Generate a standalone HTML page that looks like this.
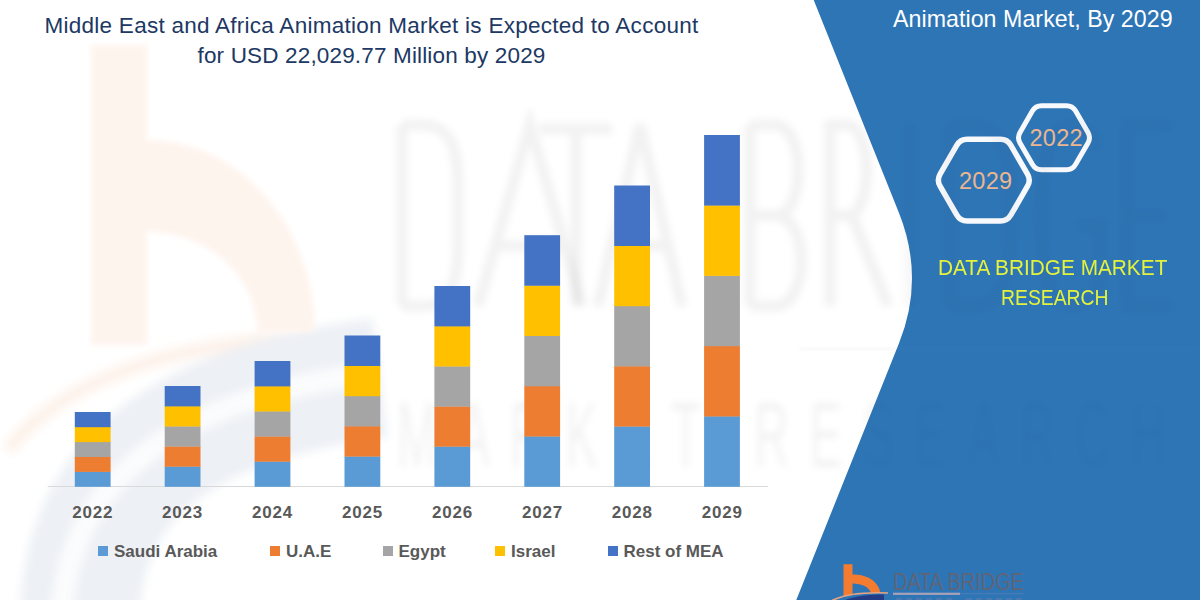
<!DOCTYPE html>
<html><head><meta charset="utf-8">
<style>
html,body{margin:0;padding:0;}
body{width:1200px;height:600px;overflow:hidden;position:relative;background:#fff;font-family:"Liberation Sans",sans-serif;}
.abs{position:absolute;white-space:nowrap;}
svg{position:absolute;left:0;top:0;}
.title{color:#203864;font-size:22.5px;line-height:30px;}
.bar{position:absolute;width:36px;}
.yr{position:absolute;top:503.3px;font-size:17px;letter-spacing:0.8px;text-indent:0.8px;font-weight:bold;color:#595959;width:90px;text-align:center;}
.lg{position:absolute;top:541.5px;font-size:17px;font-weight:bold;color:#595959;line-height:20px;}
.sq{position:absolute;top:546px;width:10px;height:10px;}
.hx{color:#ebb590;font-size:23.5px;letter-spacing:0.3px;}
.yl{color:#e4f23c;font-size:21.5px;transform-origin:0 0;}
</style></head>
<body>
<!-- watermark -->
<svg width="1200" height="600" viewBox="0 0 1200 600">
  <defs>
    <filter id="bl" x="-20%" y="-20%" width="140%" height="140%"><feGaussianBlur stdDeviation="5"/></filter>
    <filter id="bl2" x="-10%" y="-10%" width="120%" height="120%"><feGaussianBlur stdDeviation="2.5"/></filter>
    <filter id="bl3" x="-10%" y="-10%" width="120%" height="120%"><feGaussianBlur stdDeviation="3.5"/></filter>
  </defs>
  <g filter="url(#bl)">
    <path d="M 8 450 Q 90 345 330 335" fill="none" stroke="#fdf2ea" stroke-width="14"/>
    <path d="M 80 620 C 80 470 200 400 380 378" fill="none" stroke="#edf0f5" stroke-width="120"/>
    
    <path d="M 62 620 C 65 480 180 400 360 375" fill="none" stroke="#fbfcfd" stroke-width="22"/>
  </g>
  <g filter="url(#bl2)">
    <path d="M 91 45 L 147 45 L 147 140 A 168 192 0 0 1 315 332 L 257 332 A 110 100 0 0 0 147 232 L 147 345 L 91 345 Z" fill="#fef4ee"/>
  </g>
</svg>
<!-- right panel -->
<svg width="1200" height="600" viewBox="0 0 1200 600">
  <path d="M 813.7 0 L 1200 0 L 1200 600 L 796.3 600 L 899 343.25 Q 925 278.25 899 213 Z" fill="#2e75b6"/>
  <path d="M 1088.00 132.50 Q 1091.00 137.70 1088.00 142.90 L 1075.50 164.55 Q 1072.50 169.74 1066.50 169.74 L 1041.50 169.74 Q 1035.50 169.74 1032.50 164.55 L 1020.00 142.90 Q 1017.00 137.70 1020.00 132.50 L 1032.50 110.85 Q 1035.50 105.66 1041.50 105.66 L 1066.50 105.66 Q 1072.50 105.66 1075.50 110.85 Z" fill="none" stroke="#f7f9fc" stroke-width="5"/>
  <path d="M 1027.50 174.09 Q 1031.00 180.15 1027.50 186.21 L 1010.90 214.96 Q 1007.40 221.03 1000.40 221.03 L 967.20 221.03 Q 960.20 221.03 956.70 214.96 L 940.10 186.21 Q 936.60 180.15 940.10 174.09 L 956.70 145.34 Q 960.20 139.27 967.20 139.27 L 1000.40 139.27 Q 1007.40 139.27 1010.90 145.34 Z" fill="none" stroke="#f7f9fc" stroke-width="5.5"/>
  <!-- axis -->
  <line x1="48" y1="486.5" x2="768" y2="486.5" stroke="#d9d9d9" stroke-width="1.2"/>
</svg>

<!-- big watermark letters -->
<svg width="1200" height="600" viewBox="0 0 1200 600">
  <g filter="url(#bl3)" fill="none" stroke="#000" stroke-opacity="0.05" stroke-width="11">
    <path d="M 402 125 L 402 306 M 402 125 L 422 125 C 462 125 458 170.5 458 215.5 C 458 260.5 462 306 422 306 L 402 306"/>
    <path d="M 478 306 L 530 125 L 582 306 M 494 246 L 566 246"/>
    <path d="M 540 129 L 612 129 M 576 129 L 576 306"/>
    <path d="M 598 306 L 640 125 L 682 306 M 612 246 L 668 246"/>
    <path d="M 750 125 L 750 306 M 750 125 L 775 125 C 806 125 806 215.5 775 215.5 L 750 215.5 M 775 215.5 C 810 215.5 810 306 775 306 L 750 306"/>
    <path d="M 830 306 L 830 125 L 847 125 C 873 125 873 215.5 847 215.5 L 830 215.5 M 852 215.5 L 888 306"/>
    </g>
  <g filter="url(#bl3)" fill="none" stroke="#000" stroke-opacity="0.03" stroke-width="11">
    <path d="M 910 125 L 910 306"/>
    <path d="M 950 125 L 950 306 M 950 125 L 972 125 C 1012 125 1010 170.5 1010 215.5 C 1010 260.5 1012 306 972 306 L 950 306"/>
    <path d="M 1098 150 C 1092 130 1082 125 1072 125 C 1045 125 1042 170.5 1042 215.5 C 1042 260.5 1045 306 1072 306 C 1088 306 1100 296 1100 271 L 1100 225.5 L 1078 225.5"/>
    <path d="M 1172 125 L 1127 125 L 1127 306 L 1172 306 M 1127 215.5 L 1165 215.5"/>
  </g>
  <g filter="url(#bl2)">
    <line x1="395" y1="350" x2="805" y2="350" stroke="#f9d9c2" stroke-opacity="0.35" stroke-width="9" filter="url(#bl3)"/>
    <line x1="800" y1="348" x2="1200" y2="348" stroke="#7f7f7f" stroke-opacity="0.06" stroke-width="4"/>
  </g>
  <defs>
    <clipPath id="cpL"><path d="M 0 0 L 813.7 0 L 899 213 Q 925 278.25 899 343.25 L 796.3 600 L 0 600 Z"/></clipPath>
    <clipPath id="cpR"><path d="M 813.7 0 L 1200 0 L 1200 600 L 796.3 600 L 899 343.25 Q 925 278.25 899 213 Z"/></clipPath>
  </defs>
  <g clip-path="url(#cpL)"><g font-family="Liberation Sans" font-size="92" fill="#000" fill-opacity="0.05" filter="url(#bl3)">
    <text transform="translate(397 467) scale(0.52 1)" letter-spacing="40">MARKET RESEARCH</text>
  </g></g>
  <g clip-path="url(#cpR)"><g font-family="Liberation Sans" font-size="92" fill="#000" fill-opacity="0.025" filter="url(#bl3)">
    <text transform="translate(397 467) scale(0.52 1)" letter-spacing="40">MARKET RESEARCH</text>
  </g></g>
</svg>

<!-- title -->
<div class="abs title" style="left:0;top:10.7px;width:743px;text-align:center;letter-spacing:0.26px;">Middle East and Africa Animation Market is Expected to Account</div>
<div class="abs title" style="left:0;top:40.7px;width:743px;text-align:center;letter-spacing:0.16px;">for USD 22,029.77 Million by 2029</div>

<!-- bars -->
<svg width="1200" height="600" viewBox="0 0 1200 600">
  <rect x="74.8" y="471.60" width="35.8" height="15.20" fill="#5b9bd5"/>
  <rect x="74.8" y="456.70" width="35.8" height="15.20" fill="#ed7d31"/>
  <rect x="74.8" y="441.80" width="35.8" height="15.20" fill="#a5a5a5"/>
  <rect x="74.8" y="426.90" width="35.8" height="15.20" fill="#ffc000"/>
  <rect x="74.8" y="412.00" width="35.8" height="15.20" fill="#4472c4"/>
  <rect x="164.7" y="466.40" width="35.8" height="20.40" fill="#5b9bd5"/>
  <rect x="164.7" y="446.30" width="35.8" height="20.40" fill="#ed7d31"/>
  <rect x="164.7" y="426.20" width="35.8" height="20.40" fill="#a5a5a5"/>
  <rect x="164.7" y="406.10" width="35.8" height="20.40" fill="#ffc000"/>
  <rect x="164.7" y="386.00" width="35.8" height="20.40" fill="#4472c4"/>
  <rect x="254.6" y="461.40" width="35.8" height="25.40" fill="#5b9bd5"/>
  <rect x="254.6" y="436.30" width="35.8" height="25.40" fill="#ed7d31"/>
  <rect x="254.6" y="411.20" width="35.8" height="25.40" fill="#a5a5a5"/>
  <rect x="254.6" y="386.10" width="35.8" height="25.40" fill="#ffc000"/>
  <rect x="254.6" y="361.00" width="35.8" height="25.40" fill="#4472c4"/>
  <rect x="344.5" y="456.30" width="35.8" height="30.50" fill="#5b9bd5"/>
  <rect x="344.5" y="426.10" width="35.8" height="30.50" fill="#ed7d31"/>
  <rect x="344.5" y="395.90" width="35.8" height="30.50" fill="#a5a5a5"/>
  <rect x="344.5" y="365.70" width="35.8" height="30.50" fill="#ffc000"/>
  <rect x="344.5" y="335.50" width="35.8" height="30.50" fill="#4472c4"/>
  <rect x="434.4" y="446.40" width="35.8" height="40.40" fill="#5b9bd5"/>
  <rect x="434.4" y="406.30" width="35.8" height="40.40" fill="#ed7d31"/>
  <rect x="434.4" y="366.20" width="35.8" height="40.40" fill="#a5a5a5"/>
  <rect x="434.4" y="326.10" width="35.8" height="40.40" fill="#ffc000"/>
  <rect x="434.4" y="286.00" width="35.8" height="40.40" fill="#4472c4"/>
  <rect x="524.3" y="436.24" width="35.8" height="50.56" fill="#5b9bd5"/>
  <rect x="524.3" y="385.98" width="35.8" height="50.56" fill="#ed7d31"/>
  <rect x="524.3" y="335.72" width="35.8" height="50.56" fill="#a5a5a5"/>
  <rect x="524.3" y="285.46" width="35.8" height="50.56" fill="#ffc000"/>
  <rect x="524.3" y="235.20" width="35.8" height="50.56" fill="#4472c4"/>
  <rect x="614.2" y="426.30" width="35.8" height="60.50" fill="#5b9bd5"/>
  <rect x="614.2" y="366.10" width="35.8" height="60.50" fill="#ed7d31"/>
  <rect x="614.2" y="305.90" width="35.8" height="60.50" fill="#a5a5a5"/>
  <rect x="614.2" y="245.70" width="35.8" height="60.50" fill="#ffc000"/>
  <rect x="614.2" y="185.50" width="35.8" height="60.50" fill="#4472c4"/>
  <rect x="704.1" y="416.20" width="35.8" height="70.60" fill="#5b9bd5"/>
  <rect x="704.1" y="345.90" width="35.8" height="70.60" fill="#ed7d31"/>
  <rect x="704.1" y="275.60" width="35.8" height="70.60" fill="#a5a5a5"/>
  <rect x="704.1" y="205.30" width="35.8" height="70.60" fill="#ffc000"/>
  <rect x="704.1" y="135.00" width="35.8" height="70.60" fill="#4472c4"/>
</svg>

<!-- year labels -->
<div class="yr" style="left:47.3px">2022</div>
<div class="yr" style="left:137.2px">2023</div>
<div class="yr" style="left:227.2px">2024</div>
<div class="yr" style="left:317.1px">2025</div>
<div class="yr" style="left:407.0px">2026</div>
<div class="yr" style="left:497.0px">2027</div>
<div class="yr" style="left:586.9px">2028</div>
<div class="yr" style="left:676.8px">2029</div>

<!-- legend -->
<div class="sq" style="left:98px;background:#5b9bd5"></div><div class="lg" style="left:114px">Saudi Arabia</div>
<div class="sq" style="left:270px;background:#ed7d31"></div><div class="lg" style="left:286px">U.A.E</div>
<div class="sq" style="left:382.5px;background:#a5a5a5"></div><div class="lg" style="left:398.5px">Egypt</div>
<div class="sq" style="left:495px;background:#ffc000"></div><div class="lg" style="left:511px">Israel</div>
<div class="sq" style="left:607.5px;background:#4472c4"></div><div class="lg" style="left:623.5px">Rest of MEA</div>

<!-- right panel texts -->
<div class="abs" style="left:893px;top:6px;color:#fff;font-size:23.2px;letter-spacing:0.05px;">Animation Market, By 2029</div>
<div class="abs hx" style="left:1029.4px;top:124.7px;">2022</div>
<div class="abs hx" style="left:959px;top:168px;">2029</div>
<div class="abs yl" style="left:937.5px;top:256px;transform:scaleX(0.968);">DATA BRIDGE MARKET</div>
<div class="abs yl" style="left:1001px;top:286.2px;transform:scaleX(0.9);">RESEARCH</div>

<!-- logo -->
<svg width="1200" height="600" viewBox="0 0 1200 600">
  <path d="M 843.5 564.3 L 852.5 564.3 L 852.5 574.5 C 866 574.5 878 580 880.5 593 L 871 593 C 869 587 862 583.6 852.5 583.6 L 852.5 595 L 843.5 596 Z" fill="#f47c30"/>
  <path d="M 845 600 C 856 596 868 594.5 884 594.5 L 884 600 Z" fill="#223d85"/>
  <path d="M 832 600.5 C 845 594 862 592 888 593" fill="none" stroke="#e7a47e" stroke-width="1.6"/>
  <rect x="893" y="592.7" width="67" height="2.2" fill="#a8a2b8"/>
  <rect x="960" y="593.2" width="64" height="1" fill="#5d7fb5" opacity="0.7"/>
  <text x="893" y="590" font-family="Liberation Sans" font-size="24" fill="#5f6578" transform="translate(893 0) scale(0.83 1) translate(-893 0)">DATA BRIDGE</text>
  <g fill="#6a7fa6" opacity="0.45">
    <rect x="896" y="598" width="6" height="2"/><rect x="906" y="598" width="6" height="2"/><rect x="916" y="598" width="6" height="2"/><rect x="926" y="598" width="6" height="2"/><rect x="936" y="598" width="6" height="2"/><rect x="946" y="598" width="6" height="2"/>
    <rect x="966" y="598" width="6" height="2"/><rect x="976" y="598" width="6" height="2"/><rect x="986" y="598" width="6" height="2"/><rect x="996" y="598" width="6" height="2"/><rect x="1006" y="598" width="6" height="2"/><rect x="1016" y="598" width="6" height="2"/>
  </g>
</svg>
</body></html>
